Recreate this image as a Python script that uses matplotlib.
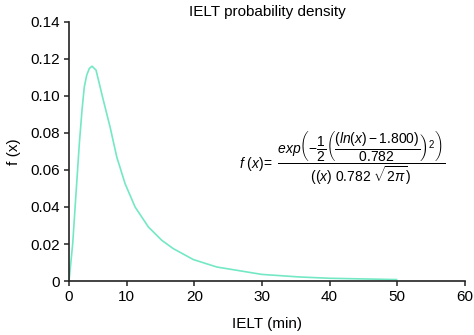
import numpy as np
import matplotlib
matplotlib.use('Agg')
import matplotlib.pyplot as plt

plt.rcParams['font.family'] = ['Liberation Sans', 'DejaVu Sans']
plt.rcParams['mathtext.fontset'] = 'custom'
plt.rcParams['mathtext.rm'] = 'Liberation Sans'
plt.rcParams['mathtext.it'] = 'Liberation Sans:italic'
plt.rcParams['mathtext.bf'] = 'Liberation Sans:bold'

# curve (IELT in min, density)
ielt = [0, 0.64, 1.21, 1.79, 2.25, 2.65, 3.07, 3.52, 3.99, 4.68, 5.94,
        7.11, 8.27, 9.71, 11.23, 13.2, 15.18, 16.89, 19.85, 23.31, 26.8,
        29.97, 35.6, 40.1, 49.9]
dens = [0, 0.0202, 0.0472, 0.0743, 0.0923, 0.1049, 0.1112, 0.1148, 0.1160,
        0.1139, 0.0977, 0.0832, 0.0670, 0.0526, 0.0400, 0.0292, 0.0220,
        0.0175, 0.0116, 0.0076, 0.0055, 0.0036, 0.0022, 0.0015, 0.0008]

xticks = [0, 10, 20, 30, 40, 50, 60]
yticks = [0, 0.02, 0.04, 0.06, 0.08, 0.10, 0.12, 0.14]
ytick_labels = ['0', '0.02', '0.04', '0.06', '0.08', '0.10', '0.12', '0.14']

line_color = '#74E8C4'

# first decade is drawn a bit narrower than the others in the original
k = 0.854
def fwd(x):
    x = np.asarray(x, dtype=float)
    return np.where(x < 10, x * k, 10 * k + (x - 10))

def inv(u):
    u = np.asarray(u, dtype=float)
    return np.where(u < 10 * k, u / k, u - 10 * k + 10)

fig = plt.figure(figsize=(4.74, 3.35), dpi=100)
ax = fig.add_axes([0.1456, 0.161, 0.835, 0.774])

ax.plot(ielt, dens, color=line_color, lw=1.2)

ax.set_xscale('function', functions=(fwd, inv))
ax.set_xlim(0, 60)
ax.set_ylim(0, 0.14)
ax.set_xticks(xticks)
ax.set_xticklabels([str(t) for t in xticks])
ax.set_yticks(yticks)
ax.set_yticklabels(ytick_labels)
ax.minorticks_off()

for s in ['top', 'right']:
    ax.spines[s].set_visible(False)
for s in ['left', 'bottom']:
    ax.spines[s].set_linewidth(1.2)
    ax.spines[s].set_color('#222222')
ax.tick_params(direction='out', length=3.5, width=1.1, labelsize=11, color='#222222', pad=3)

ax.set_title('IELT probability density', fontsize=11, pad=4)
ax.set_xlabel('IELT (min)', fontsize=11, labelpad=9)
ax.set_ylabel('f (x)', fontsize=11, labelpad=7)

formula = (r'$f\ (x)\!=\ \dfrac{exp\left(-\dfrac{1}{2}\left(\dfrac{(ln(x)-1.800)}{0.782}\right)^2\right)}'
           r'{((x)\ 0.782\ \sqrt{2\pi})}$')
fig.text(342 / 474, 1 - 158 / 335, formula, fontsize=10, ha='center', va='center')

fig.savefig('out.png', dpi=100)
